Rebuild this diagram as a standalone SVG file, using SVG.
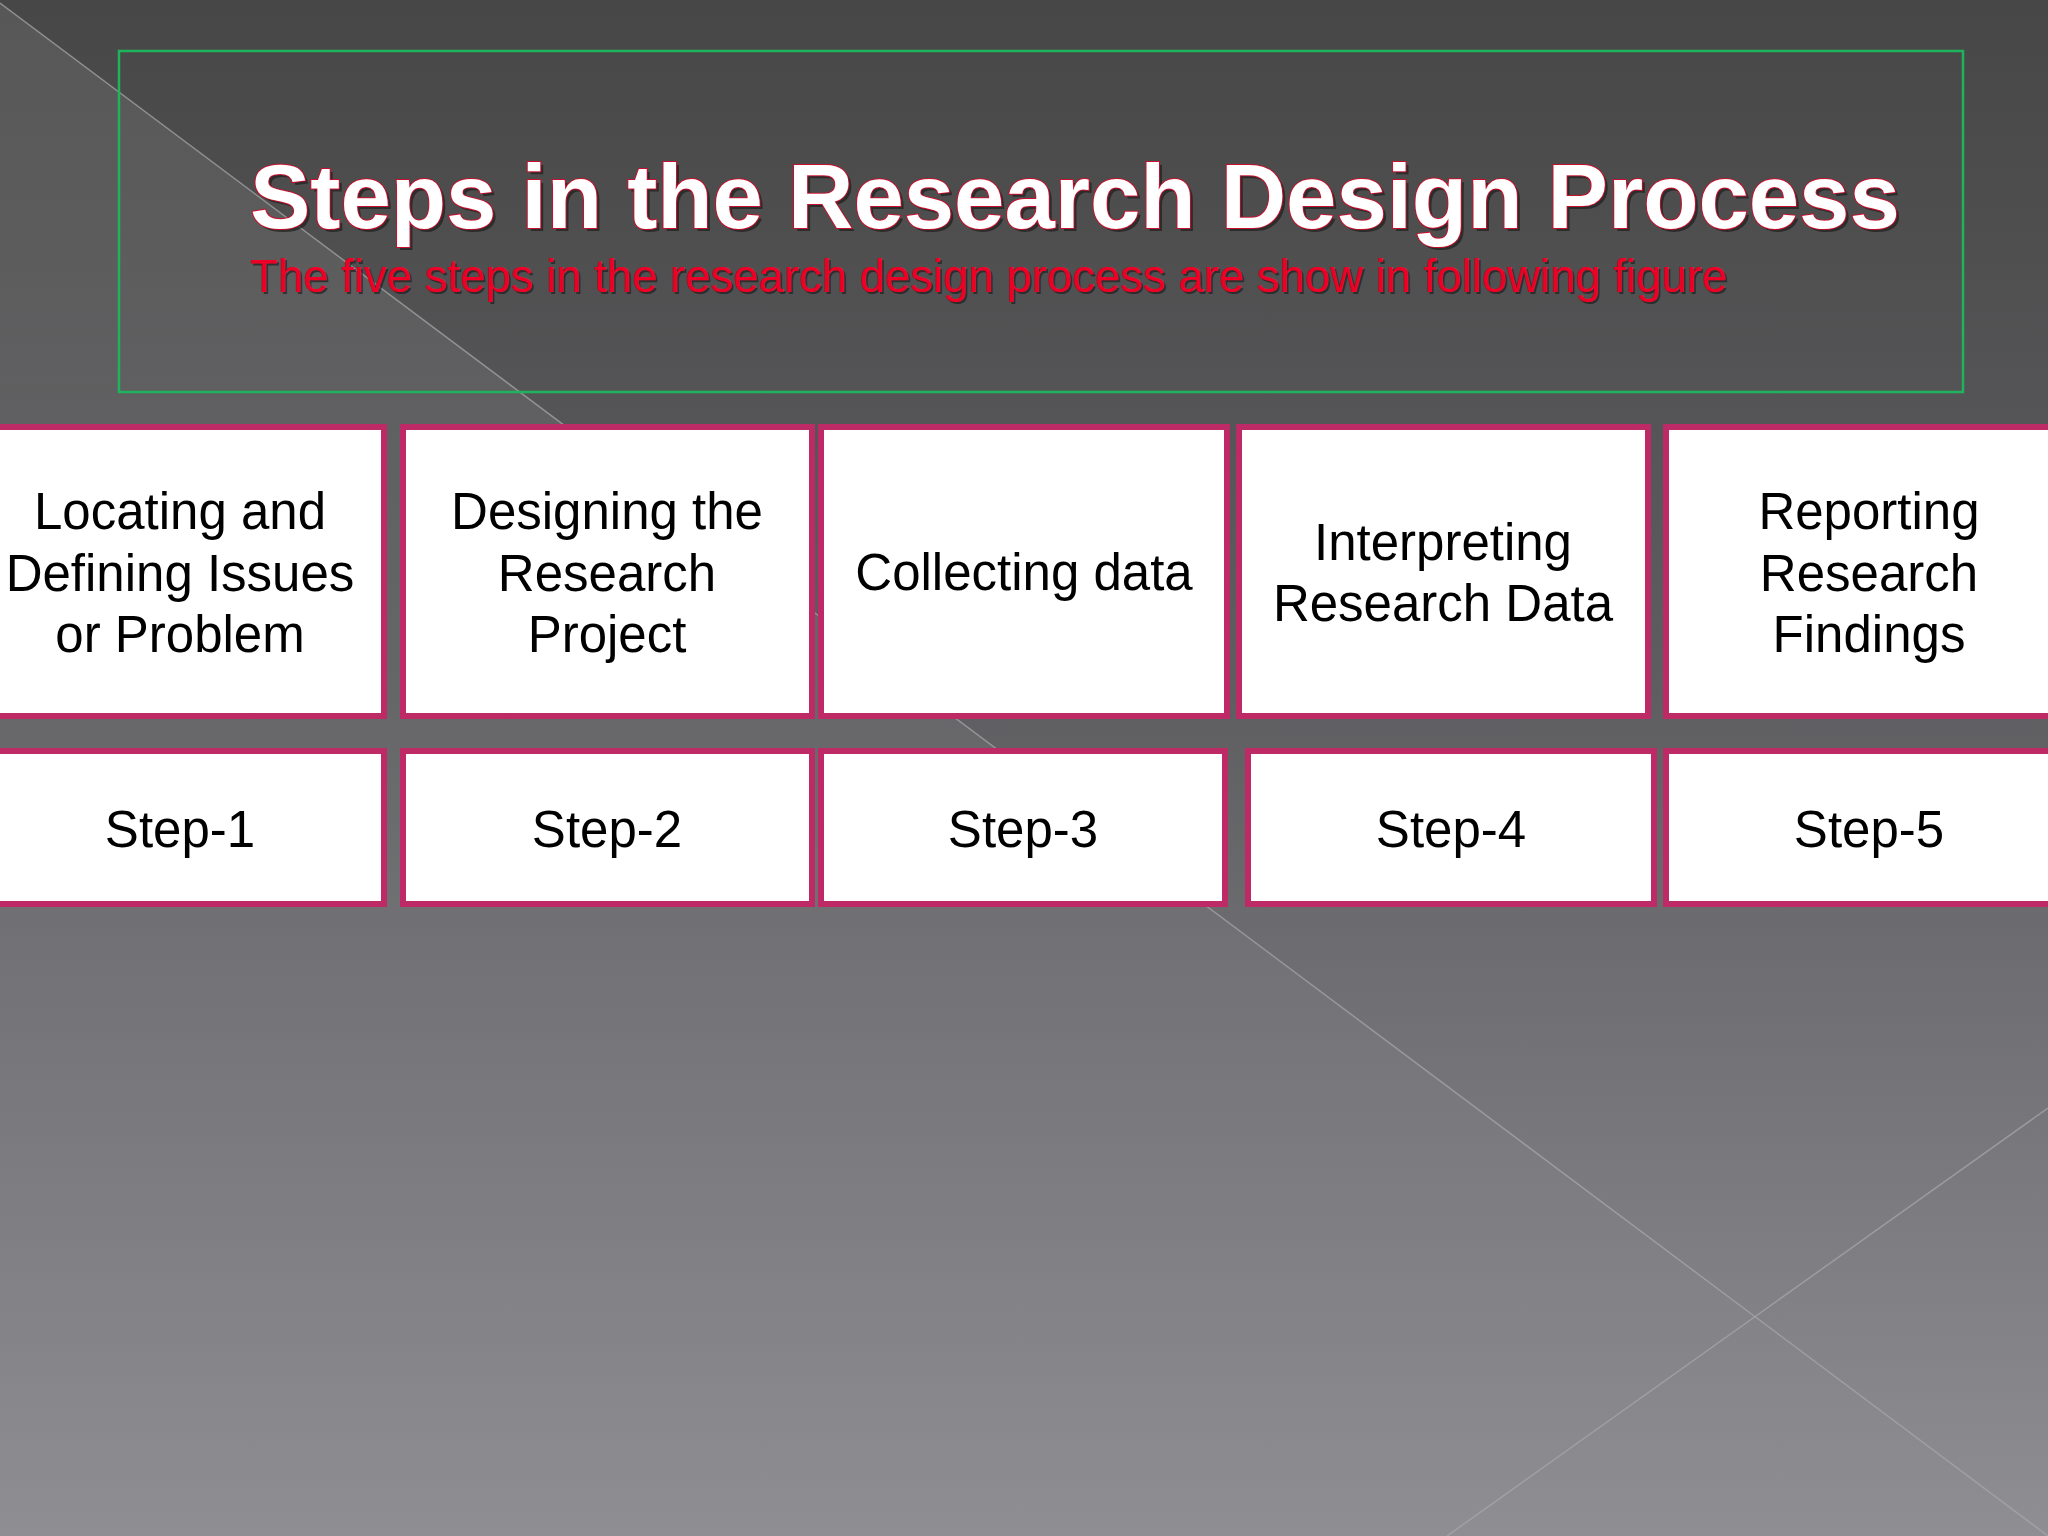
<svg xmlns="http://www.w3.org/2000/svg" width="2048" height="1536" viewBox="0 0 2048 1536">
  <defs>
    <linearGradient id="bg" x1="0" y1="0" x2="0" y2="1">
      <stop offset="0" stop-color="#474747"/>
      <stop offset="0.45" stop-color="#5e5d60"/>
      <stop offset="1" stop-color="#8f8e92"/>
    </linearGradient>
    <linearGradient id="tri" x1="0" y1="0" x2="0" y2="1">
      <stop offset="0" stop-color="#ffffff" stop-opacity="0.09"/>
      <stop offset="1" stop-color="#ffffff" stop-opacity="0.0"/>
    </linearGradient>
    <style>
      .box { fill: #ffffff; stroke: #be2a66; stroke-width: 6; }
      .lbl { font-family: "Liberation Sans", Arial, sans-serif; font-size: 51px; fill: #000000; text-anchor: middle; }
      .bgline { stroke: #a9a8ab; stroke-width: 1.5; stroke-opacity: 0.7; fill: none; }
      .title { font-family: "Liberation Sans", Arial, sans-serif; font-weight: bold; font-size: 90.5px; }
      .sub { font-family: "Liberation Sans", Arial, sans-serif; font-size: 45.5px; }
    </style>
  </defs>

  <!-- background -->
  <rect x="0" y="0" width="2048" height="1536" fill="url(#bg)"/>
  <polygon points="0,3 2048,1536 0,1536" fill="url(#tri)"/>
  <line class="bgline" x1="0" y1="3" x2="2048" y2="1536"/>
  <line class="bgline" x1="2048" y1="1108" x2="1447" y2="1536"/>

  <!-- title frame -->
  <rect x="119" y="51" width="1844" height="341" fill="none" stroke="#1fb35e" stroke-width="2.5"/>

  <!-- title -->
  <g id="title">
    <text class="title" x="253" y="231" fill="#1e1e1e" fill-opacity="0.7">Steps in the Research Design Process</text>
    <text class="title" x="250" y="228" fill="#ffffff" stroke="#c8102e" stroke-width="2" paint-order="stroke">Steps in the Research Design Process</text>
  </g>
  <g id="subtitle">
    <text class="sub" x="252" y="294" fill="#1e1e1e" fill-opacity="0.7">The five steps in the research design process are show in following figure</text>
    <text class="sub" x="250" y="292" fill="#ee0026">The five steps in the research design process are show in following figure</text>
  </g>

  <!-- top row -->
  <g id="node-locating">
    <rect class="box" x="-25" y="427" width="409" height="289"/>
    <text class="lbl" x="180" y="529">Locating and</text>
    <text class="lbl" x="180" y="590.5">Defining Issues</text>
    <text class="lbl" x="180" y="652">or Problem</text>
  </g>
  <g id="node-designing">
    <rect class="box" x="403" y="427" width="409" height="289"/>
    <text class="lbl" x="607" y="529">Designing the</text>
    <text class="lbl" x="607" y="590.5">Research</text>
    <text class="lbl" x="607" y="652">Project</text>
  </g>
  <g id="node-collecting">
    <rect class="box" x="821" y="427" width="406" height="289"/>
    <text class="lbl" x="1024" y="590">Collecting data</text>
  </g>
  <g id="node-interpreting">
    <rect class="box" x="1239" y="427" width="409" height="289"/>
    <text class="lbl" x="1443" y="560">Interpreting</text>
    <text class="lbl" x="1443" y="621">Research Data</text>
  </g>
  <g id="node-reporting">
    <rect class="box" x="1666" y="427" width="406" height="289"/>
    <text class="lbl" x="1869" y="529">Reporting</text>
    <text class="lbl" x="1869" y="590.5">Research</text>
    <text class="lbl" x="1869" y="652">Findings</text>
  </g>

  <!-- bottom row -->
  <g id="node-step1">
    <rect class="box" x="-25" y="751" width="409" height="153"/>
    <text class="lbl" x="180" y="847">Step-1</text>
  </g>
  <g id="node-step2">
    <rect class="box" x="403" y="751" width="409" height="153"/>
    <text class="lbl" x="607" y="847">Step-2</text>
  </g>
  <g id="node-step3">
    <rect class="box" x="821" y="751" width="404" height="153"/>
    <text class="lbl" x="1023" y="847">Step-3</text>
  </g>
  <g id="node-step4">
    <rect class="box" x="1248" y="751" width="406" height="153"/>
    <text class="lbl" x="1451" y="847">Step-4</text>
  </g>
  <g id="node-step5">
    <rect class="box" x="1666" y="751" width="406" height="153"/>
    <text class="lbl" x="1869" y="847">Step-5</text>
  </g>

  <g id="connectors"></g>
</svg>
